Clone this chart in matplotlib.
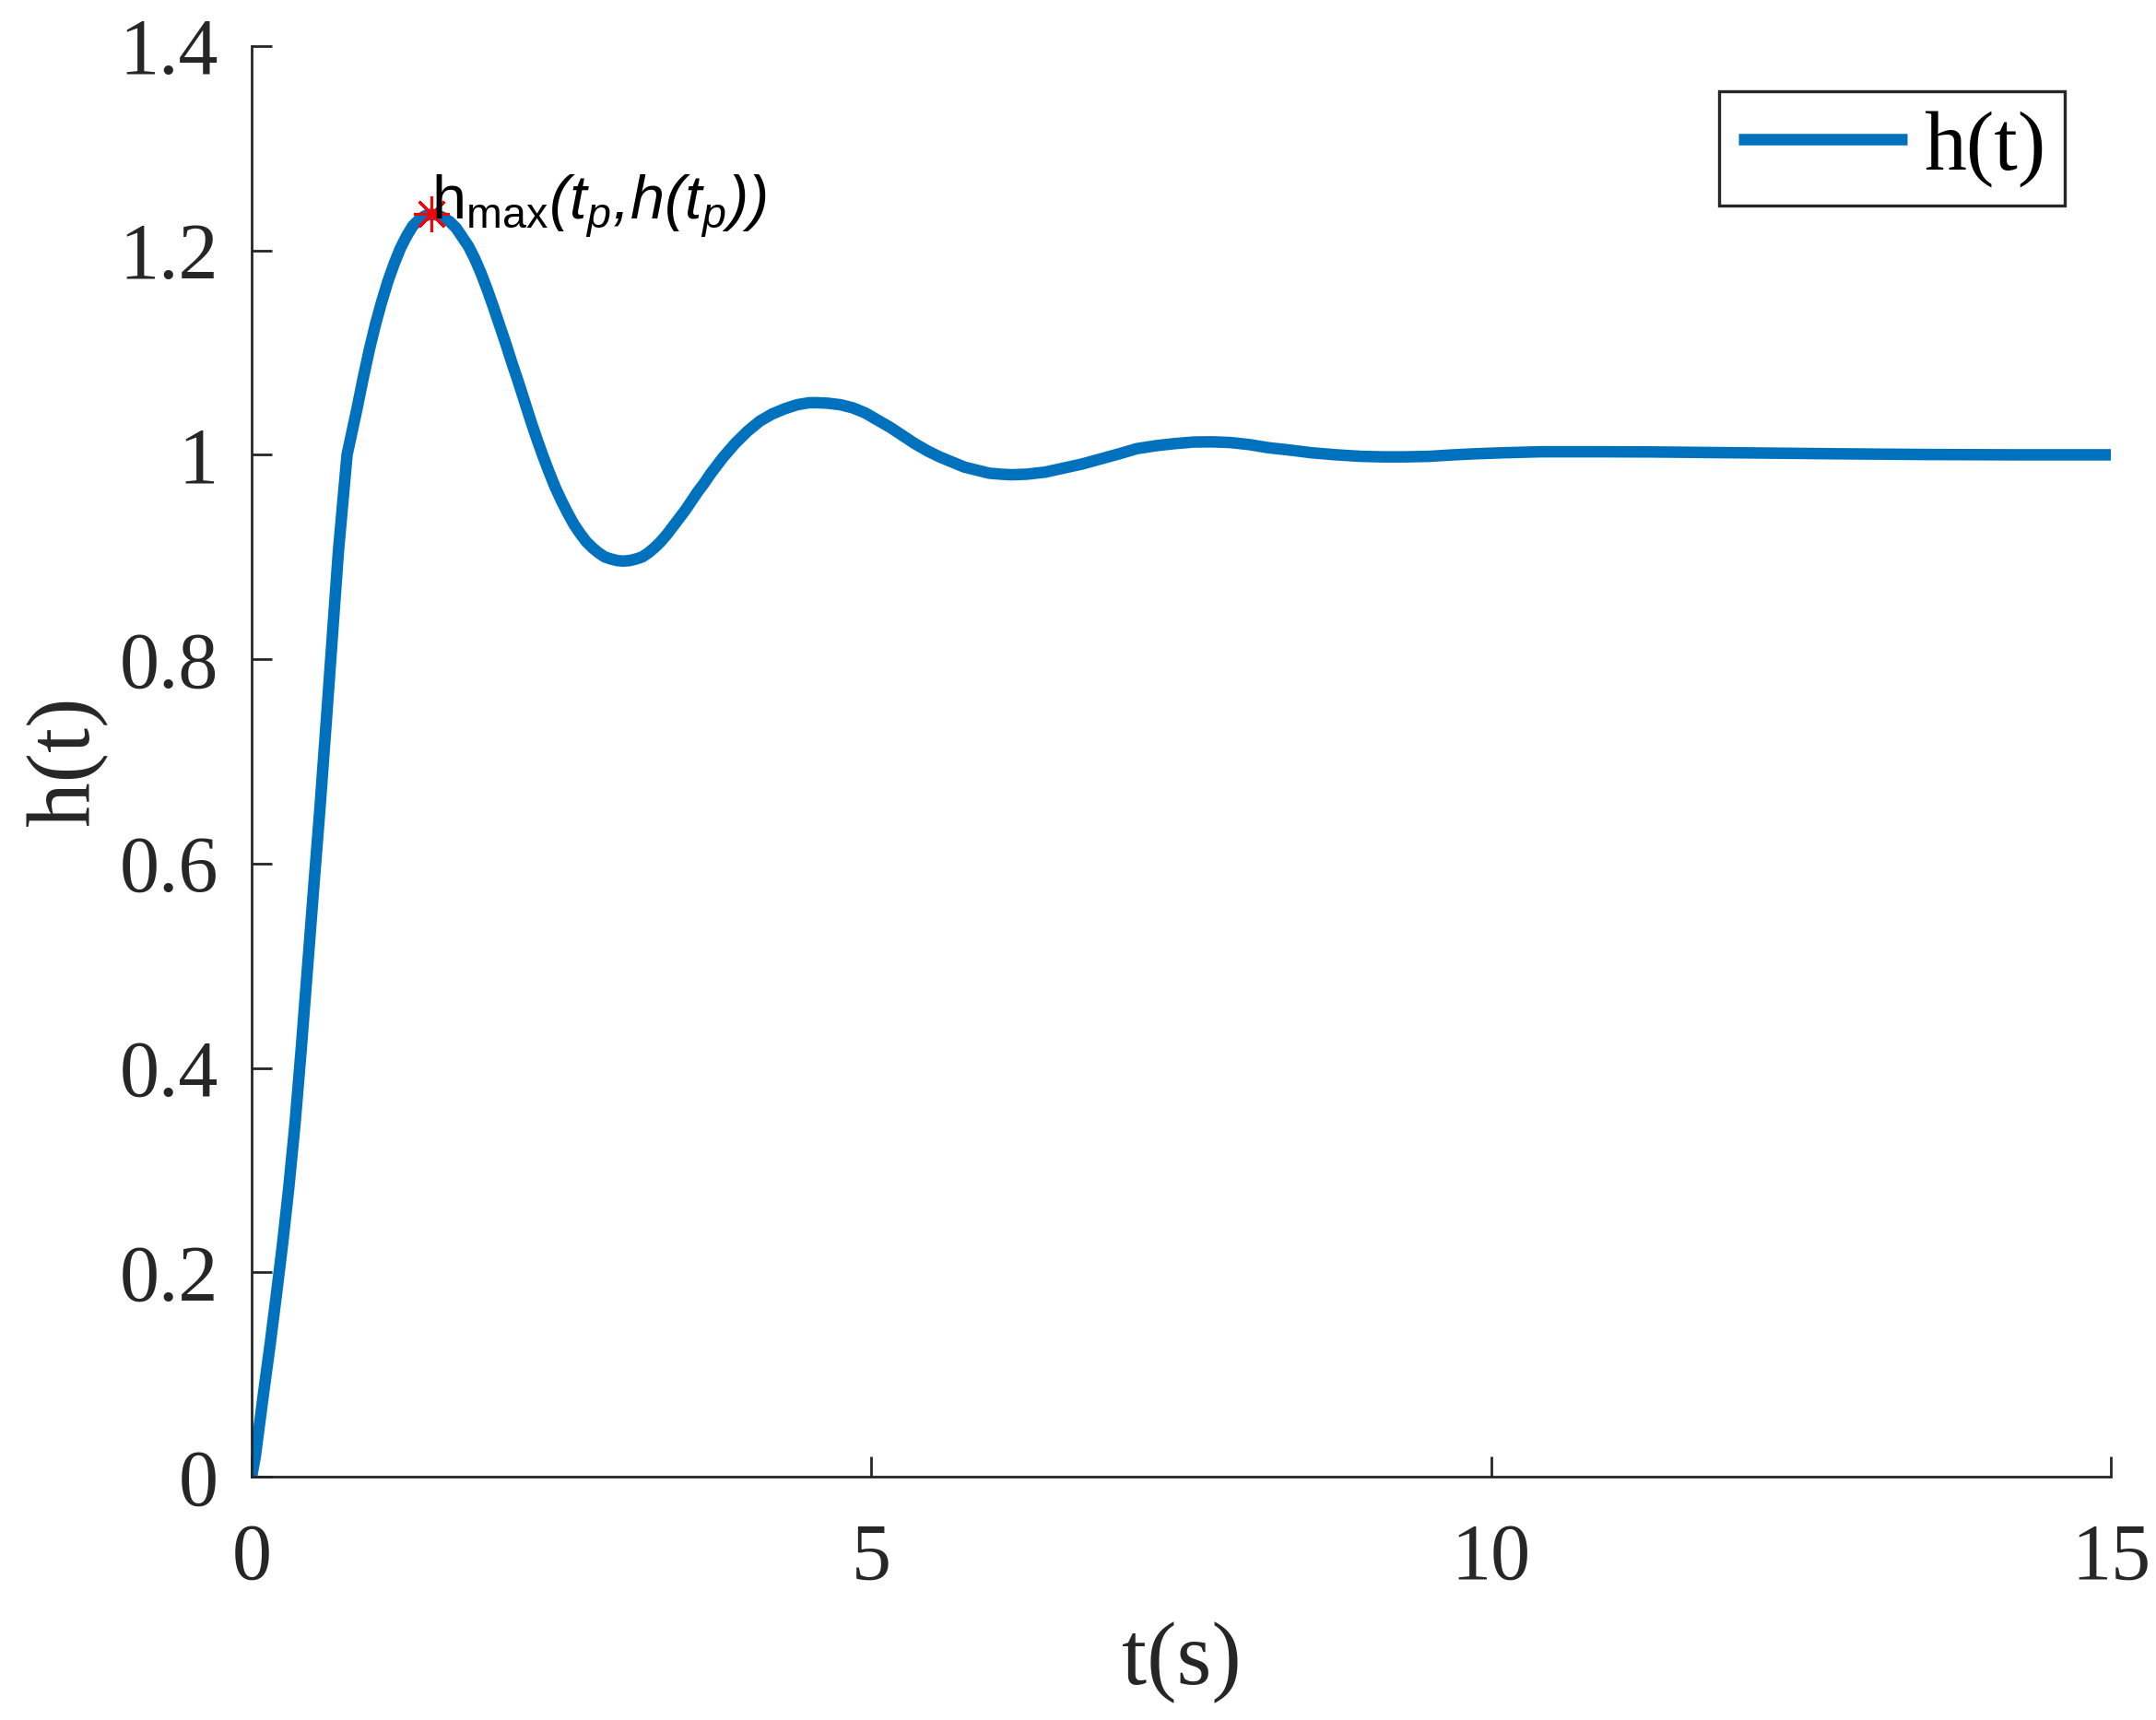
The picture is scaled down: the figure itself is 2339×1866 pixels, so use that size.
import matplotlib
matplotlib.use("Agg")
import matplotlib.pyplot as plt
from matplotlib.ticker import FuncFormatter

# ---- data ----
t_vals = [0.00, 0.03, 0.06, 0.10, 0.15, 0.20, 0.25, 0.30, 0.35, 0.40, 0.45, 0.50, 0.55, 0.60,
          0.65, 0.70, 0.77,
          0.80, 0.85, 0.90, 0.95, 1.00, 1.05, 1.10, 1.15, 1.20, 1.25, 1.30, 1.35, 1.40, 1.45,
          1.50, 1.55, 1.60, 1.65, 1.70, 1.75, 1.80, 1.85, 1.90, 1.95, 2.00, 2.05, 2.10, 2.15,
          2.20, 2.25, 2.30, 2.35, 2.40, 2.45, 2.50, 2.55, 2.60, 2.65, 2.70, 2.75, 2.80, 2.85,
          2.90, 2.95, 3.00, 3.05, 3.10, 3.15, 3.20, 3.25, 3.30, 3.35, 3.40, 3.45, 3.50, 3.55,
          3.60, 3.65, 3.70, 3.75, 3.80, 3.85, 3.90, 3.95, 4.00, 4.10, 4.20, 4.30, 4.40, 4.50,
          4.56, 4.65, 4.75, 4.85, 4.95, 5.05, 5.15, 5.25, 5.35, 5.45, 5.55, 5.65, 5.75, 5.85,
          5.95, 6.05, 6.13, 6.25, 6.40, 6.55, 6.70, 6.85, 7.00, 7.14, 7.30, 7.45, 7.60, 7.75,
          7.90, 8.05, 8.20, 8.38, 8.55, 8.75, 8.95, 9.13, 9.30, 9.50, 9.70, 9.87, 10.10, 10.40,
          10.86, 11.30, 11.80, 12.30, 12.80, 13.50, 14.20, 15.00]
h_vals = [0.000, 0.020, 0.048, 0.085, 0.130, 0.178, 0.228, 0.283, 0.345, 0.418, 0.497, 0.575,
          0.652, 0.735, 0.820, 0.905, 1.000,
          1.017, 1.045, 1.075, 1.103, 1.128, 1.150, 1.170, 1.187, 1.202, 1.214, 1.224, 1.230,
          1.234, 1.2355,
          1.2345, 1.232, 1.228, 1.222, 1.213, 1.204, 1.192, 1.178, 1.162, 1.145, 1.127, 1.109,
          1.090, 1.072, 1.053, 1.034, 1.016, 0.999, 0.983, 0.968, 0.955, 0.943, 0.932, 0.923,
          0.915, 0.909, 0.904, 0.900, 0.898, 0.8965, 0.896, 0.8965, 0.898, 0.900, 0.904, 0.909,
          0.915, 0.922, 0.930, 0.938, 0.946, 0.955, 0.964, 0.972, 0.981, 0.989, 0.997, 1.004,
          1.011, 1.017, 1.023, 1.033, 1.040, 1.045, 1.049, 1.051, 1.051, 1.0505, 1.049, 1.046,
          1.041, 1.034, 1.027, 1.019, 1.011, 1.004, 0.998, 0.993, 0.988, 0.985, 0.982, 0.981,
          0.9805, 0.981, 0.983, 0.987, 0.991, 0.996, 1.001, 1.006, 1.009, 1.011, 1.0125, 1.0127,
          1.012, 1.010, 1.007, 1.0046, 1.002, 1.000, 0.9985, 0.998, 0.998, 0.9985, 1.000, 1.001,
          1.002, 1.003, 1.003, 1.0028, 1.0022, 1.0015, 1.001, 1.0003, 1.000, 1.000]

t_peak = 1.45
h_peak = 1.2355

x_ticks = [0, 5, 10, 15]
y_ticks = [0, 0.2, 0.4, 0.6, 0.8, 1.0, 1.2, 1.4]

line_color = "#0072BD"
ax_color = "#262626"

plt.rcParams["mathtext.fontset"] = "custom"
plt.rcParams["mathtext.rm"] = "Liberation Sans"
plt.rcParams["mathtext.it"] = "Liberation Sans:italic"
plt.rcParams["mathtext.bf"] = "Liberation Sans:italic"

fig = plt.figure(figsize=(11.695, 9.33), dpi=200)
ax = fig.add_axes([0.1167, 0.1415, 0.8624, 0.8317])

ax.plot(t_vals, h_vals, color=line_color, lw=4.5, label="h(t)", zorder=2,
        solid_joinstyle="round", solid_capstyle="butt")
ax.plot([t_peak], [h_peak], linestyle="none", marker=(8, 2, 0), markersize=14,
        markeredgewidth=1.1, color="red", zorder=3)
ax.annotate(r"$\mathrm{h}_{\mathrm{max}}\mathbf{(t_p{,}h(t_p))}$", xy=(t_peak, h_peak),
            xytext=(0, 3), textcoords="offset points", ha="left", va="center",
            fontsize=24, color="black", zorder=4)

ax.set_xlim(0, 15)
ax.set_ylim(0, 1.4)
ax.set_xticks(x_ticks)
ax.set_yticks(y_ticks)
ax.yaxis.set_major_formatter(FuncFormatter(lambda v, p: "%g" % round(v, 4)))

for s in ["top", "right"]:
    ax.spines[s].set_visible(False)
for s in ["left", "bottom"]:
    ax.spines[s].set_color(ax_color)
    ax.spines[s].set_linewidth(1.0)

serif = "Liberation Serif"
ax.tick_params(axis="both", direction="in", length=8, width=1.0, color=ax_color,
               labelcolor=ax_color, labelsize=31)
ax.tick_params(axis="x", pad=18)
ax.tick_params(axis="y", pad=13)
for lab in ax.get_xticklabels() + ax.get_yticklabels():
    lab.set_fontfamily(serif)

ax.set_xlabel("t(s)", fontsize=35, fontfamily=serif, color=ax_color, labelpad=10)
ax.set_ylabel("h(t)", fontsize=35, fontfamily=serif, color=ax_color, labelpad=4.5)

leg = ax.legend(loc="upper right", bbox_to_anchor=(0.975, 0.9684), borderaxespad=0,
                fancybox=False, framealpha=1, edgecolor=ax_color,
                prop={"family": serif, "size": 33}, handlelength=2.0,
                handletextpad=0.2, borderpad=0.22)
leg.get_frame().set_linewidth(1.2)
for txt in leg.get_texts():
    txt.set_color("black")

fig.savefig("out.png", dpi=200, facecolor="white")
